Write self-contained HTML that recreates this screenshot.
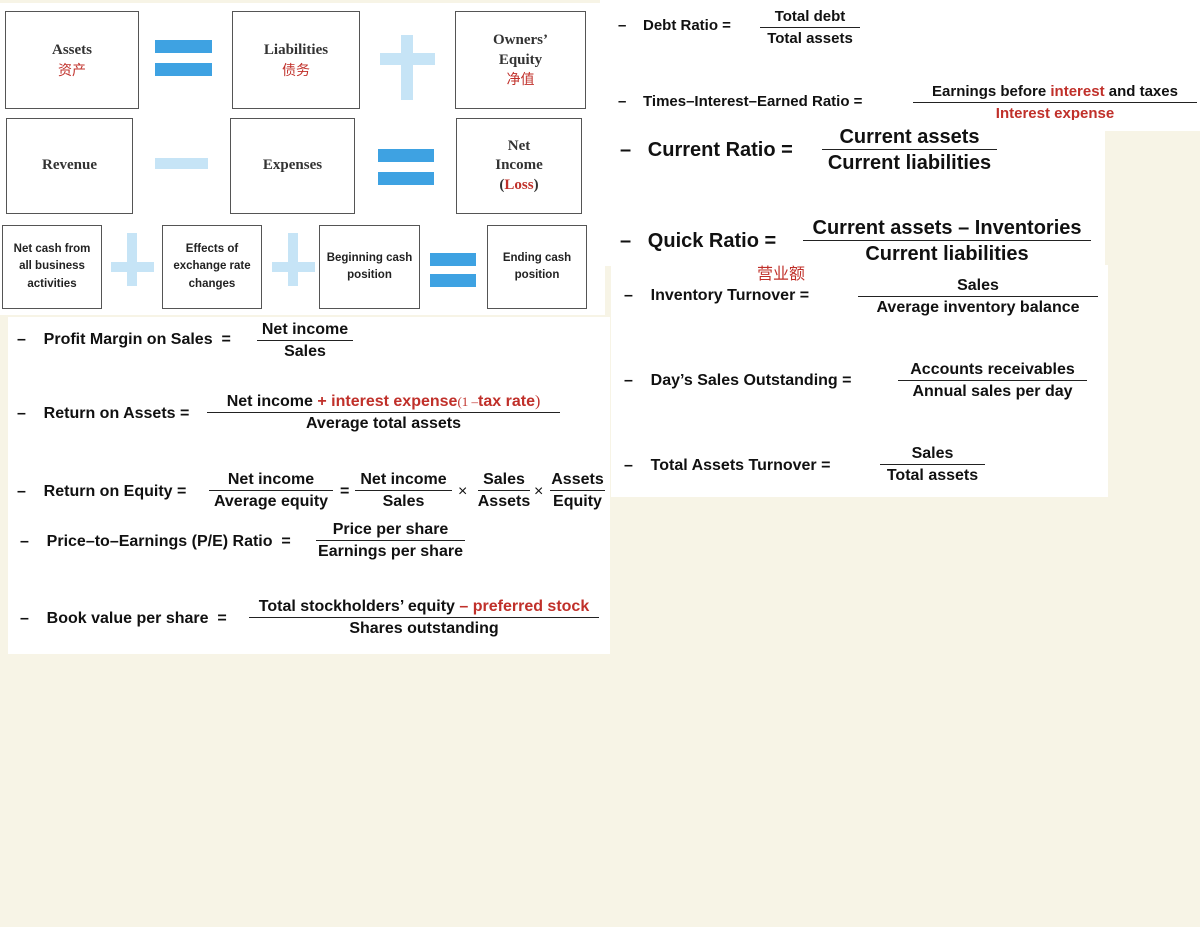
<!DOCTYPE html>
<html><head><meta charset="utf-8"><style>
body{margin:0;width:1200px;height:927px;background:#f7f4e6;position:relative;overflow:hidden;font-family:"Liberation Sans","Noto Sans CJK SC",sans-serif;color:#111}
.p{position:absolute;background:#fff}
.b{position:absolute;border:1.5px solid #555;box-sizing:border-box;background:#fff;display:flex;flex-direction:column;align-items:center;justify-content:center;text-align:center;font-family:"Liberation Serif","Noto Serif CJK SC",serif;font-weight:bold;font-size:15px;color:#333;line-height:1.3}
.s{font-family:"Liberation Sans",sans-serif;font-size:11.5px;line-height:1.5;color:#222}
.r{position:absolute}
.dk{background:#3ea2e2}.lt{background:#c6e4f6}
.l{position:absolute;font-weight:bold;font-size:16px;white-space:nowrap;line-height:18px}
.f{position:absolute;height:0;border-top:1.5px solid #222;font-weight:bold;font-size:16px;white-space:nowrap;line-height:18px}
.n,.d{position:absolute;left:-40px;right:-40px;display:flex;justify-content:center}
.n{bottom:2px}.d{top:2px}
.red{color:#c0302a}
.hw{color:#c0302a;font-family:"Noto Sans CJK SC",sans-serif;font-weight:normal;font-size:14px}
</style></head><body>
<div class="p" style="left:0;top:3px;width:605px;height:312px"></div>
<div class="p" style="left:600px;top:0;width:600px;height:131px"></div>
<div class="p" style="left:601px;top:131px;width:504px;height:135px"></div>
<div class="p" style="left:611px;top:265px;width:497px;height:232px"></div>
<div class="p" style="left:8px;top:317px;width:602px;height:337px"></div>

<div class="b" style="left:5px;top:11px;width:134px;height:98px">Assets<span class="hw">资产</span></div>
<div class="r dk" style="left:155px;top:40px;width:57px;height:13px"></div>
<div class="r dk" style="left:155px;top:63px;width:57px;height:13px"></div>
<div class="b" style="left:232px;top:11px;width:128px;height:98px">Liabilities<span class="hw">债务</span></div>
<div class="r lt" style="left:401px;top:35px;width:12px;height:65px"></div>
<div class="r lt" style="left:380px;top:53px;width:55px;height:12px"></div>
<div class="b" style="left:455px;top:11px;width:131px;height:98px"><span>Owners’</span><span>Equity</span><span class="hw">净值</span></div>
<div class="b" style="left:6px;top:118px;width:127px;height:96px">Revenue</div>
<div class="r lt" style="left:155px;top:158px;width:53px;height:11px"></div>
<div class="b" style="left:230px;top:118px;width:125px;height:96px">Expenses</div>
<div class="r dk" style="left:378px;top:149px;width:56px;height:13px"></div>
<div class="r dk" style="left:378px;top:172px;width:56px;height:13px"></div>
<div class="b" style="left:456px;top:118px;width:126px;height:96px"><span>Net</span><span>Income</span><span>(<span class="red">Loss</span>)</span></div>
<div class="b s" style="left:2px;top:225px;width:100px;height:84px"><span>Net cash from</span><span>all business</span><span>activities</span></div>
<div class="r lt" style="left:127px;top:233px;width:10px;height:53px"></div>
<div class="r lt" style="left:111px;top:262px;width:43px;height:10px"></div>
<div class="b s" style="left:162px;top:225px;width:100px;height:84px"><span>Effects of</span><span>exchange rate</span><span>changes</span></div>
<div class="r lt" style="left:288px;top:233px;width:10px;height:53px"></div>
<div class="r lt" style="left:272px;top:262px;width:43px;height:10px"></div>
<div class="b s" style="left:319px;top:225px;width:101px;height:84px"><span>Beginning cash</span><span>position</span></div>
<div class="r dk" style="left:430px;top:253px;width:46px;height:13px"></div>
<div class="r dk" style="left:430px;top:274px;width:46px;height:13px"></div>
<div class="b s" style="left:487px;top:225px;width:100px;height:84px"><span>Ending cash</span><span>position</span></div>

<div class="l" style="left:618px;top:17px;font-size:15px">–&nbsp;&nbsp;&nbsp; Debt Ratio =</div>
<div class="f" style="left:760px;top:27px;width:100px;font-size:15px"><div class="n">Total debt</div><div class="d">Total assets</div></div>

<div class="l" style="left:618px;top:93px;font-size:15px">–&nbsp;&nbsp;&nbsp; Times–Interest–Earned Ratio =</div>
<div style="position:absolute;left:860px;top:60px;width:340px;height:60px;overflow:hidden">
<div class="f" style="left:53px;top:42px;width:284px;font-size:15px"><div class="n">Earnings before&nbsp;<span class="red">interest</span>&nbsp;and taxes</div><div class="d red">Interest expense</div></div>
</div>

<div class="l" style="left:620px;top:139px;font-size:20px;line-height:22px">–&nbsp;&nbsp; Current Ratio =</div>
<div class="f" style="left:822px;top:149px;width:175px;font-size:20px;line-height:22px"><div class="n">Current assets</div><div class="d">Current liabilities</div></div>

<div class="l" style="left:620px;top:230px;font-size:20px;line-height:22px">–&nbsp;&nbsp; Quick Ratio =</div>
<div class="f" style="left:803px;top:240px;width:288px;font-size:20px;line-height:22px"><div class="n">Current assets – Inventories</div><div class="d">Current liabilities</div></div>

<div class="hw" style="position:absolute;left:757px;top:260px;font-size:16px">营业额</div>
<div class="l" style="left:624px;top:287px">–&nbsp;&nbsp;&nbsp; Inventory Turnover =</div>
<div class="f" style="left:858px;top:296px;width:240px"><div class="n">Sales</div><div class="d">Average inventory balance</div></div>

<div class="l" style="left:624px;top:372px">–&nbsp;&nbsp;&nbsp; Day’s Sales Outstanding =</div>
<div class="f" style="left:898px;top:380px;width:189px"><div class="n">Accounts receivables</div><div class="d">Annual sales per day</div></div>

<div class="l" style="left:624px;top:457px">–&nbsp;&nbsp;&nbsp; Total Assets Turnover =</div>
<div class="f" style="left:880px;top:464px;width:105px"><div class="n">Sales</div><div class="d">Total assets</div></div>

<div class="l" style="left:17px;top:331px">–&nbsp;&nbsp;&nbsp; Profit Margin on Sales&nbsp;&nbsp;=</div>
<div class="f" style="left:257px;top:340px;width:96px"><div class="n">Net income</div><div class="d">Sales</div></div>

<div class="l" style="left:17px;top:405px">–&nbsp;&nbsp;&nbsp; Return on Assets =</div>
<div class="f" style="left:207px;top:412px;width:353px"><div class="n">Net income&nbsp;<span class="red">+ interest expense<span style="font-family:'Liberation Serif',serif;font-weight:normal;font-size:13px">(1 –</span>tax rate<span style="font-family:'Liberation Serif',serif;font-weight:normal">)</span></span></div><div class="d">Average total assets</div></div>

<div class="l" style="left:17px;top:483px">–&nbsp;&nbsp;&nbsp; Return on Equity =</div>
<div class="f" style="left:209px;top:490px;width:124px"><div class="n">Net income</div><div class="d">Average equity</div></div>
<div class="l" style="left:340px;top:483px">=</div>
<div class="f" style="left:355px;top:490px;width:97px"><div class="n">Net income</div><div class="d">Sales</div></div>
<div class="l" style="left:458px;top:483px;font-weight:normal">×</div>
<div class="f" style="left:478px;top:490px;width:52px"><div class="n">Sales</div><div class="d">Assets</div></div>
<div class="l" style="left:534px;top:483px;font-weight:normal">×</div>
<div class="f" style="left:550px;top:490px;width:55px"><div class="n">Assets</div><div class="d">Equity</div></div>

<div class="l" style="left:20px;top:533px">–&nbsp;&nbsp;&nbsp; Price–to–Earnings (P/E) Ratio&nbsp;&nbsp;=</div>
<div class="f" style="left:316px;top:540px;width:149px"><div class="n">Price per share</div><div class="d">Earnings per share</div></div>

<div class="l" style="left:20px;top:610px">–&nbsp;&nbsp;&nbsp; Book value per share&nbsp;&nbsp;=</div>
<div class="f" style="left:249px;top:617px;width:350px"><div class="n">Total stockholders’ equity&nbsp;<span class="red">– preferred stock</span></div><div class="d">Shares outstanding</div></div>
</body></html>
